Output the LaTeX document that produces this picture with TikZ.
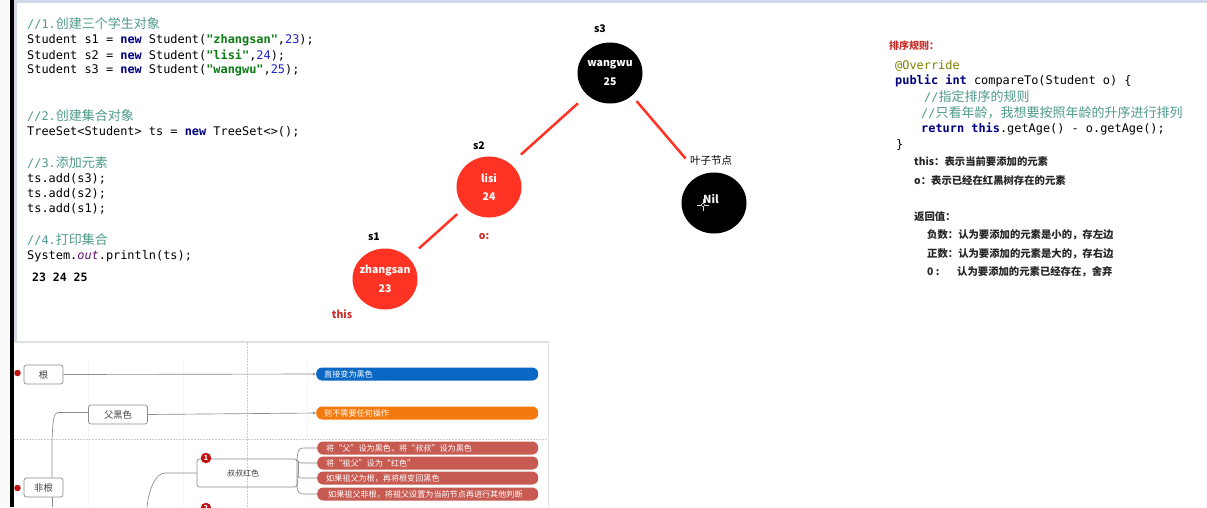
\documentclass[tikz,border=0pt]{standalone}
\usepackage{fontspec}
\usetikzlibrary{shapes.geometric,arrows.meta}
\setmainfont{Noto Sans CJK SC}
\setmonofont{DejaVu Sans Mono}
\newfontfamily\cjk{Noto Sans CJK SC}
\definecolor{cmt}{HTML}{4F9A8C}
\definecolor{kw}{HTML}{000080}
\definecolor{str}{HTML}{0A7A12}
\definecolor{num}{HTML}{2020D0}
\definecolor{ann}{HTML}{808000}
\definecolor{fld}{HTML}{660E7A}
\definecolor{nodered}{HTML}{FF3324}
\definecolor{lblred}{HTML}{C9302A}
\definecolor{pillred}{HTML}{C75B52}
\definecolor{pillblue}{HTML}{0A68C4}
\definecolor{pillorange}{HTML}{F47A0E}
\definecolor{conn}{HTML}{8A8A8A}
\definecolor{darkdot}{HTML}{C00F0F}
\definecolor{band}{HTML}{D0D8EA}
\newcommand{\K}[1]{\textcolor{kw}{\textbf{#1}}}
\newcommand{\Str}[1]{\textcolor{str}{\textbf{#1}}}
\newcommand{\N}[1]{\textcolor{num}{#1}}
\newcommand{\cj}[1]{{\cjk\fontsize{13}{14}\selectfont #1}}
\newcommand{\zw}[1]{\makebox[0pt][c]{#1}}
\newcommand{\fc}{\symbol{"FF0C}}
\newcommand{\fk}{\symbol{"FF1A}}
\tikzset{
  x=1pt,y=-1pt,
  code/.style={anchor=west,inner sep=0pt,yshift=-1pt,font=\fontsize{11.9}{14}\selectfont\ttfamily,text=black},
  cmtline/.style={code,text=cmt},
  rbt/.style={ellipse,minimum width=65pt,minimum height=61pt,inner sep=0pt,align=center,text=white,font=\fontsize{10.5}{18.5}\selectfont\bfseries},
  redn/.style={rbt,fill=nodered},
  blackn/.style={rbt,fill=black},
  edge/.style={draw=nodered,line width=2.5pt},
  tag/.style={inner sep=0pt,font=\fontsize{10.5}{13}\selectfont\bfseries,text=black},
  rtag/.style={tag,text=lblred},
  note/.style={anchor=west,inner sep=0pt,yshift=-.6pt,font=\fontsize{10.35}{13}\selectfont\bfseries,text=black!85},
  mbox/.style={draw=black!45,rounded corners=2.5pt,line width=.7pt,inner sep=0pt,font=\fontsize{9.3}{11}\selectfont,text=black!75},
  pill/.style={rounded corners=6pt,inner sep=0pt,anchor=west,text=white,font=\fontsize{8.1}{10}\selectfont,minimum height=13pt},
  mline/.style={draw=conn,line width=.65pt},
  dot/.style={circle,fill=darkdot,minimum size=6.5pt,inner sep=0pt},
  guide/.style={draw=black!20,line width=.4pt,dash pattern=on 1.5pt off 1.5pt},
  faint/.style={draw=black!4,line width=.4pt},
  badge/.style={circle,fill=darkdot,text=white,inner sep=0pt,minimum size=10.5pt,font=\fontsize{7}{8}\selectfont\bfseries},
}
\begin{document}
\begin{tikzpicture}
\useasboundingbox (0,0) rectangle (1207,507);
\fill[white] (0,0) rectangle (1207,507);
% window frame
\fill[black!2] (0,0) rectangle (10,507);
\fill[band] (14,0) rectangle (1207,3);
\fill[band] (14,0) rectangle (17,342);
\fill[black] (10,0) rectangle (14,507);
% code
\node[cmtline] (c1) at (27,23) {//1.\cj{创建三个学生对象}};
\node[code] (c2) at (27,39) {Student s1 = \K{new} Student(\Str{"zhangsan"},\N{23});};
\node[code] (c3) at (27,54) {Student s2 = \K{new} Student(\Str{"lisi"},\N{24});};
\node[code] (c4) at (27,69) {Student s3 = \K{new} Student(\Str{"wangwu"},\N{25});};
\node[cmtline] (c5) at (27,115) {//2.\cj{创建集合对象}};
\node[code] (c6) at (27,131) {TreeSet<Student> ts = \K{new} TreeSet<>();};
\node[cmtline] (c7) at (27,162) {//3.\cj{添加元素}};
\node[code] (c8) at (27,178) {ts.add(s3);};
\node[code] (c9) at (27,193) {ts.add(s2);};
\node[code] (c10) at (27,208) {ts.add(s1);};
\node[cmtline] (c11) at (27,239) {//4.\cj{打印集合}};
\node[code] (c12) at (27,255) {System.\textcolor{fld}{\textit{out}}.println(ts);};
\node[code,font=\fontsize{11.5}{14}\selectfont\ttfamily\bfseries] (c13) at (32,276) {23 24 25};
% tree
\node[blackn] (s3) at (610,73) {\zw{wangwu}\\\zw{25}};
\node[redn] (s2) at (489,187) {\zw{lisi}\\\zw{24}};
\node[redn] (s1) at (385,279) {\zw{zhangsan}\\\zw{23}};
\node[blackn] (nil) at (714,203) {};
\node[inner sep=0pt,text=white,font=\fontsize{11}{14}\selectfont\bfseries] (niltxt) at (711,199) {Nil};
\draw[edge,shorten <=12.5pt,shorten >=14pt] (s3.224) -- (s2.47);
\draw[edge,shorten <=7pt,shorten >=22pt] (s3.314) -- (nil.117);
\draw[edge,shorten <=10pt,shorten >=14pt] (s2.220) -- (s1.42);
\draw[white!85!black,line width=.8pt] (703,199) -- (703,203) (703,207) -- (703,211) (697,205) -- (701,205) (705,205) -- (709,205);
\draw[white!85!black,line width=.5pt] (703,203) -- (705,205) -- (703,207) -- (701,205) -- cycle;
\node[tag] (t3) at (600,29) {s3};
\node[tag] (t2) at (479,146) {s2};
\node[tag] (t1) at (374,237) {s1};
\node[tag,font=\fontsize{10.5}{13}\selectfont] (leaf) at (711,161) {叶子节点};
\node[rtag] (oo) at (484,237) {o:};
\node[rtag] (thislbl) at (342,314) {this};
% right panel
\node[anchor=west,inner sep=0pt,text=lblred,font=\fontsize{10}{13}\selectfont\bfseries] (rule) at (889,46) {排序规则\fk};
\node[code,text=ann] (r1) at (895,65) {@Override};
\node[code] (r2) at (895,80) {\K{public} \K{int} compareTo(Student o) \{};
\node[cmtline] (r3) at (924,96) {//\cj{指定排序的规则}};
\node[cmtline] (r4) at (921,112) {//\cj{只看年龄\fc 我想要按照年龄的升序进行排列}};
\node[code] (r5) at (921,128) {\K{return} \K{this}.getAge() - o.getAge();};
\node[code] (r6) at (896,144) {\}};
\node[note] (n1) at (914,161) {this\fk 表示当前要添加的元素};
\node[note] (n2) at (914,180) {o\fk 表示已经在红黑树存在的元素};
\node[note] (n3) at (914,216) {返回值\fk};
\node[note] (n4) at (927,234) {负数\fk 认为要添加的元素是小的\fc 存左边};
\node[note] (n5) at (927,253) {正数\fk 认为要添加的元素是大的\fc 存右边};
\node[note] (n6) at (927,271) {0 :};
\node[note] (n7) at (957,271) {认为要添加的元素已经存在\fc 舍弃};
% lower panel
\fill[black!12] (14,341) rectangle (549,507);
\fill[white] (14,343) rectangle (548,507);
\draw[faint] (88,358) -- (88,507) (183,358) -- (183,507) (307,358) -- (307,439);
\draw[guide] (14,439) -- (548,439);
\draw[guide] (247,343) -- (247,507);
\node[mbox,minimum width=39pt,minimum height=19pt] (root) at (43.5,374.5) {根};
\node[mbox,minimum width=59pt,minimum height=19pt] (fb) at (118,414.5) {父黑色};
\node[mbox,minimum width=39pt,minimum height=19pt] (nonroot) at (43.5,487.5) {非根};
\node[dot] (d1) at (17.5,373) {};
\node[dot] (d2) at (17.5,488) {};
\node[pill,fill=pillblue,minimum width=222pt,text width=208pt,align=left] (p1) at (316,374) {\hspace*{1pt}直接变为黑色};
\node[pill,fill=pillorange,minimum width=222pt,text width=208pt,align=left] (p2) at (316,413) {\hspace*{1pt}则不需要任何操作};
\node[pill,fill=pillred,minimum width=221pt,text width=207pt,align=left] (p3) at (317,448) {\hspace*{2pt}将“父”设为黑色\fc 将“叔叔”设为黑色};
\node[pill,fill=pillred,minimum width=221pt,text width=207pt,align=left] (p4) at (317,463) {\hspace*{2pt}将“祖父”设为“红色”};
\node[pill,fill=pillred,minimum width=221pt,text width=207pt,align=left] (p5) at (317,478) {\hspace*{2pt}如果祖父为根\fc 再将根变回黑色};
\node[pill,fill=pillred,minimum width=221pt,text width=207pt,align=left] (p6) at (317,494) {\hspace*{4pt}如果祖父非根\fc 将祖父设置为当前节点再进行其他判断};
\node[mbox,minimum width=100pt,minimum height=28pt,font=\fontsize{8}{10}\selectfont] (uncle) at (247,473) {叔叔红色\hspace*{8pt}};
\coordinate (bot1) at (52,507);
\coordinate (bot2) at (147,507);
\draw[mline] (uncle.west) -- (165,473) .. controls (155,473) and (149,490) .. (bot2);
\draw[mline] (nonroot.north) ++(8.5,0) -- (52,440) .. controls (53,420) and (53.5,412.5) .. (58,412.5) -- (88.5,412.5);
\draw[mline] (bot1) -- (52,497);
\draw[mline,-{Latex[length=3pt,width=3pt]}] (root.east) -- (p1.west);
\draw[mline,-{Latex[length=3pt,width=3pt]}] (fb.east) -- (p2.west);
\draw[mline] (297,459) .. controls (298,453) and (297,448) .. (304,448) -- (p3.west);
\draw[mline] (297,459) .. controls (298,463) and (299,463) .. (303,463) -- (p4.west);
\draw[mline] (298,461) -- (298,474);
\draw[mline] (298,474) .. controls (298,478) and (299,478) .. (303,478) -- (p5.west);
\draw[mline] (297,487) .. controls (298,480) and (298,478) .. (298,474);
\draw[mline] (297,487) .. controls (298,492) and (299,494) .. (304,494) -- (p6.west);
\node[badge] (b1) at (206,458) {1};
\node[badge] (b2) at (206,508) {2};
\end{tikzpicture}
\end{document}
